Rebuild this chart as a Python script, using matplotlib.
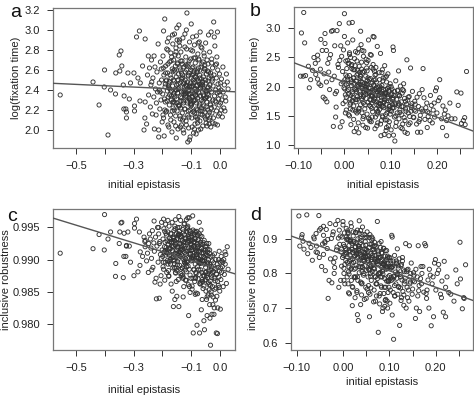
import numpy as np
import matplotlib
matplotlib.use('Agg')
import matplotlib.pyplot as plt

plt.rcParams['font.family'] = ['Liberation Sans', 'DejaVu Sans']

# panels a and c share the same x (initial epistasis)
epi_ac = [
    -0.555, -0.441, -0.420, -0.402, -0.401, -0.389, -0.380, -0.363, -0.362, -0.350,
    -0.348, -0.344, -0.341, -0.336, -0.334, -0.333, -0.327, -0.325, -0.325, -0.320,
    -0.315, -0.311, -0.299, -0.297, -0.297, -0.290, -0.285, -0.280, -0.278, -0.277,
    -0.269, -0.264, -0.261, -0.260, -0.260, -0.255, -0.252, -0.249, -0.248, -0.245,
    -0.242, -0.240, -0.238, -0.235, -0.233, -0.230, -0.228, -0.226, -0.224, -0.221,
    -0.219, -0.217, -0.215, -0.213, -0.211, -0.209, -0.207, -0.205, -0.203, -0.201,
    -0.199, -0.198, -0.196, -0.195, -0.194, -0.192, -0.191, -0.190, -0.189, -0.187,
    -0.186, -0.185, -0.183, -0.182, -0.181, -0.180, -0.178, -0.177, -0.176, -0.175,
    -0.174, -0.172, -0.171, -0.170, -0.169, -0.167, -0.166, -0.165, -0.164, -0.163,
    -0.162, -0.161, -0.160, -0.159, -0.158, -0.157, -0.156, -0.155, -0.154, -0.153,
    -0.152, -0.151, -0.150, -0.150, -0.149, -0.148, -0.147, -0.146, -0.145, -0.144,
    -0.143, -0.142, -0.141, -0.140, -0.139, -0.138, -0.137, -0.136, -0.135, -0.134,
    -0.133, -0.132, -0.131, -0.130, -0.129, -0.128, -0.127, -0.126, -0.125, -0.124,
    -0.123, -0.122, -0.121, -0.120, -0.119, -0.118, -0.117, -0.116, -0.115, -0.114,
    -0.113, -0.112, -0.111, -0.110, -0.109, -0.108, -0.107, -0.106, -0.105, -0.104,
    -0.103, -0.102, -0.101, -0.100, -0.100, -0.099, -0.098, -0.097, -0.096, -0.095,
    -0.094, -0.093, -0.092, -0.091, -0.090, -0.089, -0.088, -0.087, -0.086, -0.085,
    -0.084, -0.083, -0.082, -0.081, -0.080, -0.079, -0.078, -0.077, -0.076, -0.075,
    -0.074, -0.073, -0.072, -0.071, -0.070, -0.069, -0.068, -0.067, -0.066, -0.065,
    -0.064, -0.063, -0.062, -0.061, -0.060, -0.059, -0.058, -0.057, -0.056, -0.055,
    -0.054, -0.053, -0.052, -0.051, -0.050, -0.049, -0.048, -0.047, -0.046, -0.045,
    -0.044, -0.043, -0.042, -0.041, -0.040, -0.039, -0.038, -0.037, -0.036, -0.035,
    -0.034, -0.033, -0.032, -0.031, -0.030, -0.029, -0.028, -0.027, -0.026, -0.025,
    -0.024, -0.023, -0.022, -0.021, -0.020, -0.019, -0.018, -0.017, -0.016, -0.015,
    -0.014, -0.013, -0.012, -0.011, -0.010, -0.009, -0.008, -0.007, -0.006, -0.005,
    -0.004, -0.003, -0.002, -0.001, 0.000, 0.001, 0.002, 0.003, 0.004, 0.005,
    0.008, 0.010, 0.011, 0.013, 0.015, 0.018, 0.020, 0.022, 0.025, 0.028,
    -0.178, -0.165, -0.152, -0.140, -0.128, -0.117, -0.106, -0.095, -0.083, -0.072,
    -0.190, -0.170, -0.146, -0.124, -0.111, -0.098, -0.087, -0.068, -0.058, -0.047,
    -0.184, -0.158, -0.137, -0.119, -0.103, -0.091, -0.079, -0.063, -0.052, -0.040,
    -0.173, -0.161, -0.148, -0.133, -0.121, -0.108, -0.094, -0.082, -0.070, -0.057,
    -0.229, -0.213, -0.196, -0.181, -0.143, -0.112, -0.089, -0.035, -0.020, -0.009,
    -0.197, -0.188, -0.179, -0.168, -0.157, -0.149, -0.139, -0.129, -0.118, -0.107,
    -0.099, -0.092, -0.084, -0.076, -0.069, -0.061, -0.053, -0.046, -0.038, -0.031,
    -0.193, -0.181, -0.171, -0.162, -0.153, -0.144, -0.134, -0.125, -0.116, -0.108,
    -0.101, -0.093, -0.086, -0.078, -0.071, -0.064, -0.056, -0.049, -0.043, -0.036,
    -0.186, -0.175, -0.163, -0.154, -0.146, -0.136, -0.127, -0.119, -0.110, -0.102,
    -0.097, -0.088, -0.081, -0.073, -0.066, -0.059, -0.051, -0.044, -0.037, -0.029,
    -0.211, -0.204, -0.192, -0.176, -0.160, -0.142, -0.131, -0.113, -0.096, -0.079,
    -0.198, -0.183, -0.169, -0.155, -0.138, -0.122, -0.109, -0.090, -0.074, -0.060,
    -0.145, -0.132, -0.120, -0.105, -0.093, -0.085, -0.077, -0.065, -0.054, -0.042,
    -0.159, -0.147, -0.135, -0.121, -0.107, -0.099, -0.082, -0.071, -0.059, -0.048,
    -0.237, -0.222, -0.208, -0.166, -0.150, -0.126, -0.104, -0.086, -0.062, -0.025,
    -0.170, -0.156, -0.141, -0.123, -0.114, -0.101, -0.087, -0.075, -0.066, -0.039,
    -0.189, -0.177, -0.164, -0.151, -0.138, -0.126, -0.115, -0.103, -0.091, -0.080,
    -0.068, -0.055, -0.043, -0.033, -0.027, -0.017, -0.012, -0.003, 0.006, 0.017,
    -0.130, -0.117, -0.110, -0.097, -0.085, -0.078, -0.067, -0.050, -0.045, -0.030,
]

# panel a: log(fixation time)
fix_a = [
    2.35, 2.48, 2.25, 2.43, 2.60, 1.95, 2.40, 2.36, 2.57, 2.75,
    2.59, 2.79, 2.64, 2.45, 2.21, 2.34, 2.21, 2.18, 2.12, 2.57,
    2.31, 2.47, 2.57, 2.24, 2.19, 2.93, 2.52, 2.99, 2.29, 2.47,
    2.64, 2.00, 2.12, 2.91, 2.28, 2.06, 2.55, 2.74, 2.35, 2.62,
    2.23, 2.45, 2.70, 2.16, 2.52, 2.33, 2.01, 2.63, 2.41, 2.27,
    2.58, 2.38, 2.86, 1.93, 2.47, 2.21, 2.68, 2.30, 2.50, 2.08,
    2.36, 2.74, 2.12, 2.55, 1.94, 3.11, 2.43, 2.28, 2.64, 2.49,
    2.19, 2.81, 2.39, 2.57, 2.05, 2.33, 2.92, 2.46, 2.25, 2.68,
    2.41, 2.15, 2.77, 2.52, 2.30, 1.98, 2.61, 2.44, 2.86, 2.22,
    2.35, 2.70, 2.08, 2.49, 2.96, 2.27, 2.58, 2.40, 2.14, 2.82,
    2.53, 2.31, 3.02, 2.45, 2.19, 2.66, 2.37, 2.01, 2.74, 2.56,
    2.42, 2.88, 2.24, 2.62, 2.47, 2.11, 2.33, 2.78, 2.51, 2.05,
    2.38, 2.69, 2.17, 2.55, 2.92, 2.29, 2.46, 1.97, 2.63, 2.40,
    2.21, 2.83, 2.50, 2.34, 2.73, 2.09, 2.44, 2.60, 3.17, 2.27,
    2.48, 2.15, 2.66, 2.39, 2.02, 2.57, 2.31, 2.88, 2.44, 1.93,
    2.36, 2.71, 2.24, 2.52, 3.06, 2.43, 2.12, 2.62, 2.33, 2.79,
    2.18, 2.47, 1.97, 2.58, 2.29, 2.85, 2.41, 2.06, 2.67, 2.35,
    2.53, 2.21, 2.94, 2.44, 2.13, 2.60, 2.32, 2.76, 2.49, 2.00,
    2.38, 2.70, 2.26, 2.55, 2.09, 2.98, 2.42, 2.16, 2.63, 2.30,
    2.51, 2.82, 2.19, 2.45, 2.04, 2.68, 2.35, 2.59, 2.24, 2.74,
    2.40, 2.13, 2.61, 2.32, 2.87, 2.47, 2.07, 2.56, 2.28, 2.70,
    2.36, 2.20, 2.66, 2.43, 2.95, 2.10, 2.52, 2.31, 2.78, 2.45,
    2.26, 2.57, 2.03, 2.98, 2.38, 2.71, 2.17, 2.49, 2.62, 2.30,
    2.44, 2.12, 3.08, 2.55, 2.23, 2.34, 2.84, 2.06, 2.65, 2.40,
    2.28, 2.52, 2.19, 2.73, 2.37, 2.05, 2.60, 2.46, 2.14, 2.31,
    2.42, 2.25, 2.56, 2.16, 2.35, 2.47, 2.27, 2.40, 2.20, 2.51,
    2.13, 2.63, 2.38, 2.22, 2.45, 2.33, 2.29, 2.56, 2.48, 2.41,
    2.03, 2.95, 1.92, 2.84, 2.00, 3.00, 1.90, 2.93, 1.96, 2.88,
    2.46, 2.39, 2.50, 2.43, 2.55, 2.37, 2.48, 2.42, 2.53, 2.39,
    2.29, 2.60, 2.22, 2.65, 2.26, 2.72, 2.20, 2.66, 2.18, 2.58,
    2.55, 2.28, 2.67, 2.32, 2.58, 2.36, 2.63, 2.27, 2.52, 2.34,
    2.74, 2.00, 2.99, 2.80, 3.05, 1.88, 2.01, 2.12, 2.93, 2.98,
    2.62, 2.18, 2.44, 2.73, 2.33, 2.90, 2.14, 2.52, 2.38, 2.69,
    2.25, 2.56, 2.41, 2.87, 2.19, 2.48, 2.65, 2.33, 2.06, 2.54,
    2.31, 2.66, 2.10, 2.50, 2.78, 2.24, 2.57, 2.36, 2.81, 2.13,
    2.60, 2.30, 2.72, 2.11, 2.46, 2.22, 2.77, 2.39, 2.59, 2.18,
    2.50, 2.35, 2.59, 2.04, 2.41, 2.69, 2.27, 2.45, 2.54, 2.30,
    2.44, 2.17, 2.58, 2.37, 2.83, 2.29, 2.50, 2.14, 2.40, 2.67,
    2.40, 2.61, 2.20, 2.48, 2.37, 2.25, 2.66, 2.29, 2.55, 2.45,
    2.15, 2.88, 2.34, 2.64, 2.03, 2.96, 2.40, 2.19, 2.71, 2.48,
    2.46, 2.52, 2.36, 2.43, 2.50, 2.34, 2.58, 2.46, 2.31, 2.49,
    2.20, 2.37, 2.29, 2.21, 2.32, 2.26, 2.39, 2.24, 2.42, 2.23,
    2.48, 2.15, 2.38, 2.19, 2.27, 2.12, 2.20, 2.30, 2.15, 2.07,
    2.69, 2.75, 2.90, 2.47, 2.64, 2.80, 2.53, 2.62, 2.44, 2.35,
    2.57, 2.42, 2.28, 2.40, 2.60, 2.38, 2.33, 2.47, 2.36, 2.51,
    2.34, 2.61, 2.42, 2.25, 2.51, 2.29, 2.66, 2.38, 2.30, 2.19,
    2.10, 2.05, 2.19, 2.03, 2.13, 2.07, 2.01, 2.11, 2.04, 2.22,
]

# panel c: inclusive robustness
rob_c = [
    0.9910, 0.9917, 0.9939, 0.9915, 0.9970, 0.9932, 0.9943, 0.9874, 0.9894, 0.9925,
    0.9943, 0.9957, 0.9958, 0.9872, 0.9905, 0.9941, 0.9905, 0.9922, 0.9921, 0.9943,
    0.9921, 0.9896, 0.9875, 0.9956, 0.9949, 0.9963, 0.9881, 0.9943, 0.9891, 0.9912,
    0.9905, 0.9935, 0.9928, 0.9920, 0.9930, 0.9898, 0.9910, 0.9880, 0.9925, 0.9940,
    0.9932, 0.9918, 0.9902, 0.9945, 0.9888, 0.9926, 0.9913, 0.9865, 0.9935, 0.9839,
    0.9921, 0.9950, 0.9896, 0.9940, 0.9840, 0.9928, 0.9908, 0.9875, 0.9958, 0.9915,
    0.9905, 0.9932, 0.9885, 0.9948, 0.9912, 0.9868, 0.9927, 0.9896, 0.9955, 0.9919,
    0.9938, 0.9880, 0.9910, 0.9899, 0.9943, 0.9924, 0.9874, 0.9952, 0.9907, 0.9933,
    0.9917, 0.9893, 0.9940, 0.9862, 0.9928, 0.9903, 0.9958, 0.9914, 0.9887, 0.9935,
    0.9827, 0.9921, 0.9945, 0.9898, 0.9930, 0.9838, 0.9910, 0.9962, 0.9879, 0.9926,
    0.9904, 0.9941, 0.9915, 0.9883, 0.9933, 0.9897, 0.9950, 0.9920, 0.9869, 0.9938,
    0.9827, 0.9912, 0.9944, 0.9891, 0.9925, 0.9905, 0.9961, 0.9878, 0.9918, 0.9936,
    0.9908, 0.9930, 0.9887, 0.9947, 0.9916, 0.9873, 0.9926, 0.9900, 0.9955, 0.9911,
    0.9939, 0.9895, 0.9921, 0.9868, 0.9934, 0.9909, 0.9881, 0.9943, 0.9913, 0.9897,
    0.9927, 0.9952, 0.9890, 0.9918, 0.9813, 0.9936, 0.9965, 0.9902, 0.9929, 0.9876,
    0.9910, 0.9944, 0.9871, 0.9923, 0.9898, 0.9937, 0.9915, 0.9859, 0.9930, 0.9903,
    0.9946, 0.9786, 0.9921, 0.9884, 0.9939, 0.9911, 0.9866, 0.9926, 0.9893, 0.9915,
    0.9933, 0.9878, 0.9908, 0.9944, 0.9798, 0.9918, 0.9889, 0.9931, 0.9870, 0.9902,
    0.9921, 0.9897, 0.9940, 0.9786, 0.9913, 0.9862, 0.9927, 0.9884, 0.9905, 0.9822,
    0.9910, 0.9936, 0.9869, 0.9899, 0.9924, 0.9855, 0.9915, 0.9876, 0.9805, 0.9930,
    0.9791, 0.9903, 0.9867, 0.9920, 0.9888, 0.9851, 0.9908, 0.9838, 0.9925, 0.9813,
    0.9896, 0.9872, 0.9916, 0.9845, 0.9900, 0.9882, 0.9861, 0.9910, 0.9830, 0.9893,
    0.9867, 0.9767, 0.9904, 0.9850, 0.9889, 0.9876, 0.9815, 0.9898, 0.9858, 0.9906,
    0.9842, 0.9882, 0.9895, 0.9815, 0.9871, 0.9909, 0.9854, 0.9886, 0.9837, 0.9900,
    0.9856, 0.9786, 0.9877, 0.9843, 0.9893, 0.9866, 0.9825, 0.9888, 0.9860, 0.9900,
    0.9873, 0.9913, 0.9882, 0.9851, 0.9896, 0.9823, 0.9887, 0.9869, 0.9905, 0.9880,
    0.9889, 0.9896, 0.9858, 0.9900, 0.9877, 0.9893, 0.9908, 0.9863, 0.9920, 0.9885,
    0.9875, 0.9920, 0.9866, 0.9950, 0.9842, 0.9962, 0.9858, 0.9968, 0.9848, 0.9958,
    0.9914, 0.9906, 0.9925, 0.9897, 0.9930, 0.9902, 0.9918, 0.9894, 0.9911, 0.9875,
    0.9929, 0.9887, 0.9936, 0.9893, 0.9940, 0.9885, 0.9924, 0.9880, 0.9915, 0.9864,
    0.9900, 0.9933, 0.9892, 0.9920, 0.9884, 0.9927, 0.9871, 0.9913, 0.9863, 0.9905,
    0.9960, 0.9950, 0.9963, 0.9961, 0.9967, 0.9965, 0.9940, 0.9809, 0.9825, 0.9785,
    0.9896, 0.9941, 0.9883, 0.9926, 0.9952, 0.9909, 0.9936, 0.9871, 0.9918, 0.9945,
    0.9902, 0.9927, 0.9880, 0.9912, 0.9937, 0.9866, 0.9898, 0.9921, 0.9853, 0.9884,
    0.9920, 0.9893, 0.9931, 0.9904, 0.9887, 0.9940, 0.9915, 0.9928, 0.9889, 0.9909,
    0.9930, 0.9901, 0.9872, 0.9938, 0.9895, 0.9917, 0.9859, 0.9906, 0.9878, 0.9915,
    0.9911, 0.9928, 0.9899, 0.9923, 0.9908, 0.9885, 0.9943, 0.9901, 0.9933, 0.9924,
    0.9915, 0.9932, 0.9905, 0.9877, 0.9924, 0.9898, 0.9869, 0.9912, 0.9890, 0.9872,
    0.9925, 0.9902, 0.9944, 0.9918, 0.9935, 0.9907, 0.9929, 0.9948, 0.9899, 0.9920,
    0.9889, 0.9915, 0.9921, 0.9880, 0.9911, 0.9895, 0.9939, 0.9928, 0.9885, 0.9897,
    0.9901, 0.9887, 0.9932, 0.9914, 0.9906, 0.9942, 0.9897, 0.9918, 0.9893, 0.9906,
    0.9894, 0.9918, 0.9875, 0.9902, 0.9885, 0.9919, 0.9908, 0.9895, 0.9927, 0.9881,
    0.9884, 0.9871, 0.9862, 0.9851, 0.9843, 0.9858, 0.9849, 0.9846, 0.9838, 0.9830,
    0.9941, 0.9948, 0.9939, 0.9956, 0.9950, 0.9935, 0.9944, 0.9931, 0.9946, 0.9925,
    0.9907, 0.9897, 0.9912, 0.9931, 0.9916, 0.9922, 0.9896, 0.9908, 0.9920, 0.9903,
    0.9900, 0.9874, 0.9893, 0.9860, 0.9880, 0.9867, 0.9878, 0.9857, 0.9898, 0.9912,
    0.9876, 0.9868, 0.9861, 0.9854, 0.9871, 0.9847, 0.9865, 0.9880, 0.9842, 0.9845,
]

# panels b and d share the same x
epi_bd = [
    -0.095, -0.093, -0.089, -0.088, -0.086, -0.084, -0.078, -0.076, -0.073, -0.066,
    -0.062, -0.058, -0.058, -0.057, -0.052, -0.051, -0.051, -0.046, -0.042, -0.042,
    -0.042, -0.039, -0.039, -0.038, -0.036, -0.034, -0.032, -0.030, -0.028, -0.025,
    -0.024, -0.022, -0.020, -0.019, -0.018, -0.016, -0.014, -0.011, -0.009, -0.007,
    -0.005, -0.004, -0.003, -0.002, -0.001, 0.000, 0.001, 0.002, 0.003, 0.004,
    0.005, 0.006, 0.007, 0.008, 0.009, 0.010, 0.011, 0.012, 0.013, 0.014,
    0.015, 0.016, 0.017, 0.018, 0.019, 0.020, 0.021, 0.022, 0.023, 0.024,
    0.025, 0.026, 0.027, 0.028, 0.029, 0.030, 0.031, 0.031, 0.032, 0.033,
    0.034, 0.035, 0.035, 0.036, 0.037, 0.038, 0.039, 0.040, 0.041, 0.042,
    0.043, 0.044, 0.045, 0.046, 0.047, 0.048, 0.049, 0.050, 0.051, 0.052,
    0.053, 0.054, 0.055, 0.056, 0.057, 0.058, 0.059, 0.060, 0.061, 0.062,
    0.063, 0.064, 0.065, 0.066, 0.067, 0.068, 0.069, 0.070, 0.071, 0.072,
    0.073, 0.074, 0.075, 0.076, 0.077, 0.078, 0.079, 0.080, 0.081, 0.082,
    0.083, 0.084, 0.085, 0.086, 0.087, 0.088, 0.089, 0.090, 0.091, 0.092,
    0.093, 0.094, 0.095, 0.096, 0.097, 0.098, 0.099, 0.100, 0.101, 0.102,
    0.103, 0.104, 0.105, 0.106, 0.107, 0.108, 0.109, 0.110, 0.111, 0.112,
    0.113, 0.114, 0.115, 0.116, 0.117, 0.118, 0.119, 0.120, 0.121, 0.122,
    0.123, 0.124, 0.125, 0.126, 0.127, 0.128, 0.129, 0.130, 0.131, 0.132,
    0.134, 0.135, 0.136, 0.138, 0.140, 0.142, 0.143, 0.145, 0.147, 0.149,
    0.150, 0.152, 0.154, 0.156, 0.158, 0.160, 0.162, 0.164, 0.165, 0.167,
    0.170, 0.172, 0.174, 0.176, 0.178, 0.180, 0.183, 0.185, 0.188, 0.190,
    0.192, 0.195, 0.197, 0.200, 0.203, 0.206, 0.206, 0.210, 0.213, 0.216,
    0.218, 0.221, 0.221, 0.224, 0.232, 0.239, 0.243, 0.252, 0.257, 0.264,
    0.253, 0.260, 0.261, 0.246, 0.228, 0.212, 0.199, 0.186, 0.179, 0.168,
    0.002, 0.012, 0.022, 0.032, 0.042, 0.052, 0.062, 0.072, 0.082, 0.092,
    0.006, 0.016, 0.026, 0.036, 0.046, 0.056, 0.066, 0.076, 0.086, 0.096,
    0.009, 0.019, 0.029, 0.039, 0.049, 0.059, 0.069, 0.079, 0.089, 0.099,
    0.004, 0.014, 0.024, 0.034, 0.044, 0.054, 0.064, 0.074, 0.084, 0.094,
    0.008, 0.018, 0.028, 0.038, 0.048, 0.058, 0.068, 0.078, 0.088, 0.108,
    0.011, 0.021, 0.031, 0.041, 0.051, 0.061, 0.071, 0.081, 0.091, 0.101,
    0.026, 0.036, 0.046, 0.056, 0.066, 0.076, 0.086, 0.096, 0.106, 0.116,
    0.014, 0.024, 0.034, 0.044, 0.054, 0.064, 0.074, 0.084, 0.094, 0.104,
    -0.069, -0.063, -0.055, -0.048, -0.044, -0.033, -0.027, -0.021, -0.013, -0.006,
    0.003, 0.009, 0.015, 0.021, 0.027, 0.033, 0.039, 0.045, 0.051, 0.057,
    0.063, 0.069, 0.075, 0.081, 0.087, 0.093, 0.099, 0.105, 0.111, 0.117,
    0.001, 0.007, 0.013, 0.019, 0.025, 0.031, 0.037, 0.043, 0.049, 0.055,
    0.061, 0.067, 0.073, 0.079, 0.085, 0.091, 0.097, 0.103, 0.109, 0.115,
    -0.010, -0.003, 0.004, 0.011, 0.017, 0.023, 0.029, 0.035, 0.041, 0.047,
    0.053, 0.059, 0.065, 0.071, 0.077, 0.083, 0.089, 0.095, 0.101, 0.107,
    0.119, 0.124, 0.128, 0.133, 0.137, 0.141, 0.146, 0.151, 0.157, 0.163,
    0.013, 0.020, 0.027, 0.034, 0.041, 0.048, 0.055, 0.062, 0.069, 0.076,
    0.083, 0.090, 0.097, 0.104, 0.111, 0.118, 0.125, 0.132, 0.139, 0.144,
    -0.017, -0.008, 0.000, 0.010, 0.018, 0.028, 0.038, 0.047, 0.058, 0.068,
    0.002, 0.011, 0.020, 0.030, 0.040, 0.050, 0.060, 0.070, 0.080, 0.090,
    0.015, 0.025, 0.035, 0.045, 0.055, 0.065, 0.075, 0.085, 0.095, 0.105,
    0.007, 0.017, 0.027, 0.037, 0.047, 0.057, 0.067, 0.077, 0.087, 0.097,
    0.120, 0.126, 0.131, 0.138, 0.144, 0.153, 0.161, 0.169, 0.181, 0.194,
]

# panel b: log(fixation time)
fix_b = [
    2.18, 2.92, 2.18, 3.27, 2.75, 2.19, 2.35, 1.98, 2.12, 2.50,
    2.21, 2.54, 2.13, 2.46, 2.30, 2.02, 2.81, 1.82, 2.91, 2.74,
    1.79, 2.62, 2.08, 1.74, 2.40, 2.25, 1.95, 2.55, 2.95, 2.96,
    1.32, 2.18, 1.88, 1.48, 1.65, 2.96, 2.38, 3.08, 1.31, 2.05,
    1.40, 2.26, 1.71, 2.63, 1.98, 3.25, 2.12, 1.86, 2.44, 1.60,
    2.31, 1.93, 2.75, 2.05, 1.52, 3.09, 2.19, 1.79, 2.50, 1.35,
    2.02, 2.38, 3.10, 1.88, 2.15, 1.67, 1.23, 2.29, 1.96, 2.60,
    1.74, 2.09, 2.44, 1.83, 2.22, 1.58, 1.21, 2.01, 2.35, 1.91,
    2.14, 2.95, 1.69, 1.99, 2.30, 1.77, 2.07, 1.45, 2.52, 1.86,
    2.26, 1.62, 1.95, 2.18, 1.80, 2.41, 1.53, 2.04, 1.73, 2.80,
    1.88, 2.12, 1.41, 1.97, 1.66, 2.33, 1.84, 2.06, 1.57, 2.86,
    1.76, 2.85, 1.93, 2.20, 1.48, 1.85, 2.08, 1.69, 2.69, 1.38,
    1.99, 1.72, 2.24, 1.61, 1.90, 2.57, 1.16, 1.81, 2.02, 1.50,
    1.87, 2.15, 1.64, 1.78, 2.36, 1.43, 1.95, 1.70, 2.08, 1.55,
    1.82, 2.22, 1.33, 1.16, 1.92, 1.67, 2.05, 1.75, 1.26, 1.58,
    1.96, 1.64, 2.68, 2.62, 1.85, 1.48, 1.07, 1.72, 2.10, 1.39,
    1.78, 1.55, 1.93, 1.68, 2.27, 1.45, 1.84, 1.60, 2.01, 1.30,
    1.74, 1.52, 1.89, 1.36, 1.66, 2.05, 1.47, 1.80, 1.22, 1.62,
    1.70, 2.46, 1.20, 1.55, 1.83, 1.38, 2.32, 1.64, 1.92, 1.48,
    1.47, 1.75, 1.58, 1.36, 1.22, 1.66, 1.88, 1.51, 1.22, 1.62,
    2.31, 1.81, 1.44, 1.64, 1.72, 1.57, 1.55, 1.42, 1.68, 1.38,
    1.60, 1.48, 1.93, 1.55, 1.76, 2.12, 1.81, 1.45, 1.67, 1.53,
    1.60, 1.16, 1.42, 1.50, 1.45, 1.45, 1.91, 1.89, 1.42, 2.26,
    1.37, 1.47, 1.35, 1.68, 1.72, 1.30, 1.98, 1.85, 1.30, 1.95,
    1.75, 1.69, 2.48, 1.63, 2.61, 1.46, 2.38, 1.58, 2.29, 1.43,
    2.17, 2.31, 1.92, 2.09, 1.87, 2.14, 1.79, 2.01, 1.74, 1.94,
    1.95, 1.81, 2.03, 2.25, 2.10, 1.72, 1.98, 1.76, 1.89, 1.53,
    2.04, 2.12, 1.78, 1.84, 1.96, 1.90, 2.11, 1.85, 1.67, 1.80,
    2.40, 1.60, 2.28, 1.55, 2.32, 1.40, 2.21, 1.36, 2.16, 1.92,
    2.55, 1.97, 2.65, 1.72, 2.45, 1.94, 1.53, 2.24, 1.30, 1.86,
    1.29, 2.72, 1.30, 2.55, 1.28, 2.12, 1.18, 2.00, 1.17, 1.86,
    1.85, 1.58, 2.18, 2.06, 1.68, 2.02, 1.67, 1.95, 1.61, 1.69,
    2.28, 2.40, 2.05, 2.62, 2.22, 2.48, 2.12, 2.70, 2.33, 2.52,
    2.20, 1.88, 2.36, 2.06, 1.78, 2.25, 1.97, 1.69, 2.15, 1.86,
    2.03, 1.74, 1.94, 1.66, 1.88, 1.97, 1.59, 1.81, 1.50, 1.72,
    1.96, 2.45, 1.72, 2.29, 2.10, 1.62, 2.42, 1.91, 2.27, 1.78,
    1.84, 2.12, 1.56, 1.98, 1.73, 2.18, 1.62, 1.88, 1.69, 1.94,
    2.45, 2.08, 1.82, 2.58, 1.91, 2.36, 2.00, 2.18, 1.83, 2.05,
    1.98, 1.63, 2.26, 1.91, 1.70, 2.10, 1.52, 1.83, 2.00, 1.64,
    1.85, 1.66, 1.93, 1.58, 1.77, 1.49, 1.71, 1.60, 1.82, 1.44,
    1.62, 2.15, 1.55, 2.04, 1.49, 1.94, 1.44, 2.30, 1.62, 1.95,
    1.48, 1.90, 1.40, 1.78, 1.32, 1.70, 1.28, 1.75, 1.35, 1.67,
    1.92, 2.70, 2.86, 2.40, 2.80, 2.58, 2.62, 2.47, 2.54, 2.33,
    1.55, 1.50, 1.44, 1.38, 1.34, 1.29, 1.48, 1.33, 1.42, 1.25,
    2.08, 1.95, 1.87, 1.99, 1.92, 1.81, 1.87, 1.83, 1.76, 1.79,
    2.12, 1.76, 2.20, 1.80, 2.03, 1.77, 1.95, 1.71, 1.86, 1.66,
    1.56, 1.95, 1.42, 1.82, 1.58, 1.70, 1.40, 1.58, 1.49, 1.72,
]

# panel d: inclusive robustness
rob_d = [
    0.966, 0.879, 0.905, 0.912, 0.893, 0.870, 0.969, 0.857, 0.887, 0.838,
    0.900, 0.915, 0.862, 0.879, 0.967, 0.846, 0.925, 0.820, 0.936, 0.910,
    0.855, 0.892, 0.888, 0.808, 0.927, 0.872, 0.728, 0.780, 0.944, 0.901,
    0.773, 0.912, 0.832, 0.800, 0.817, 0.941, 0.868, 0.953, 0.760, 0.884,
    0.780, 0.862, 0.821, 0.905, 0.846, 0.950, 0.884, 0.800, 0.917, 0.770,
    0.872, 0.838, 0.930, 0.857, 0.790, 0.923, 0.896, 0.744, 0.881, 0.741,
    0.853, 0.897, 0.946, 0.815, 0.869, 0.707, 0.760, 0.908, 0.832, 0.891,
    0.788, 0.877, 0.919, 0.824, 0.862, 0.750, 0.681, 0.845, 0.900, 0.664,
    0.866, 0.952, 0.802, 0.840, 0.888, 0.710, 0.854, 0.770, 0.913, 0.817,
    0.880, 0.795, 0.835, 0.871, 0.822, 0.903, 0.760, 0.848, 0.809, 0.920,
    0.836, 0.864, 0.745, 0.851, 0.675, 0.884, 0.820, 0.858, 0.780, 0.896,
    0.806, 0.900, 0.829, 0.870, 0.752, 0.813, 0.852, 0.790, 0.877, 0.735,
    0.842, 0.950, 0.865, 0.630, 0.825, 0.887, 0.712, 0.803, 0.846, 0.764,
    0.818, 0.858, 0.690, 0.798, 0.873, 0.742, 0.834, 0.785, 0.850, 0.760,
    0.812, 0.866, 0.720, 0.700, 0.828, 0.776, 0.845, 0.794, 0.714, 0.752,
    0.836, 0.780, 0.910, 0.905, 0.820, 0.745, 0.610, 0.790, 0.852, 0.735,
    0.804, 0.770, 0.828, 0.786, 0.871, 0.740, 0.815, 0.762, 0.842, 0.650,
    0.797, 0.758, 0.822, 0.730, 0.781, 0.846, 0.748, 0.810, 0.708, 0.770,
    0.786, 0.886, 0.700, 0.760, 0.812, 0.720, 0.880, 0.775, 0.830, 0.740,
    0.755, 0.802, 0.776, 0.670, 0.700, 0.790, 0.880, 0.765, 0.690, 0.785,
    0.800, 0.820, 0.746, 0.886, 0.880, 0.728, 0.781, 0.700, 0.795, 0.649,
    0.770, 0.675, 0.830, 0.752, 0.800, 0.810, 0.826, 0.740, 0.778, 0.688,
    0.835, 0.675, 0.760, 0.790, 0.740, 0.720, 0.810, 0.890, 0.698, 0.825,
    0.784, 0.730, 0.728, 0.770, 0.745, 0.730, 0.840, 0.812, 0.742, 0.820,
    0.815, 0.805, 0.920, 0.780, 0.934, 0.755, 0.905, 0.770, 0.892, 0.725,
    0.860, 0.892, 0.851, 0.872, 0.836, 0.875, 0.815, 0.856, 0.812, 0.845,
    0.848, 0.830, 0.858, 0.895, 0.869, 0.800, 0.841, 0.801, 0.826, 0.760,
    0.855, 0.866, 0.812, 0.820, 0.846, 0.838, 0.868, 0.828, 0.790, 0.818,
    0.898, 0.780, 0.888, 0.775, 0.892, 0.740, 0.880, 0.735, 0.872, 0.836,
    0.915, 0.842, 0.925, 0.805, 0.905, 0.840, 0.770, 0.875, 0.722, 0.820,
    0.730, 0.915, 0.725, 0.904, 0.718, 0.862, 0.700, 0.850, 0.680, 0.830,
    0.834, 0.790, 0.873, 0.860, 0.790, 0.853, 0.785, 0.840, 0.778, 0.788,
    0.875, 0.905, 0.860, 0.930, 0.885, 0.898, 0.842, 0.920, 0.876, 0.908,
    0.878, 0.832, 0.895, 0.861, 0.815, 0.880, 0.848, 0.800, 0.868, 0.826,
    0.846, 0.804, 0.838, 0.790, 0.826, 0.840, 0.780, 0.818, 0.765, 0.798,
    0.852, 0.905, 0.818, 0.887, 0.866, 0.790, 0.902, 0.838, 0.882, 0.812,
    0.822, 0.862, 0.770, 0.845, 0.806, 0.866, 0.778, 0.830, 0.792, 0.836,
    0.902, 0.870, 0.826, 0.918, 0.838, 0.892, 0.855, 0.878, 0.820, 0.860,
    0.850, 0.792, 0.878, 0.835, 0.798, 0.860, 0.760, 0.820, 0.846, 0.784,
    0.822, 0.790, 0.836, 0.778, 0.805, 0.752, 0.800, 0.780, 0.812, 0.750,
    0.798, 0.870, 0.790, 0.858, 0.772, 0.848, 0.765, 0.885, 0.790, 0.846,
    0.760, 0.830, 0.745, 0.815, 0.735, 0.800, 0.722, 0.805, 0.730, 0.790,
    0.845, 0.925, 0.940, 0.900, 0.935, 0.918, 0.924, 0.912, 0.912, 0.890,
    0.780, 0.770, 0.762, 0.745, 0.738, 0.728, 0.758, 0.720, 0.742, 0.705,
    0.862, 0.850, 0.836, 0.852, 0.842, 0.824, 0.834, 0.828, 0.814, 0.818,
    0.868, 0.812, 0.876, 0.818, 0.856, 0.810, 0.842, 0.800, 0.828, 0.790,
    0.760, 0.826, 0.738, 0.810, 0.770, 0.795, 0.735, 0.770, 0.752, 0.790,
]

# regression lines: (intercept, slope)
fit_a = (2.389, -0.134)
fit_b = (2.080, -3.02)
fit_c = (0.98850, -0.01372)
fit_d = (0.855, -0.475)

xt_ac = [-0.5, -0.4, -0.3, -0.2, -0.1, 0.0]
xl_ac = ['\u22120.5', '', '\u22120.3', '', '\u22120.1', '0.0']
xt_bd = [-0.10, -0.05, 0.0, 0.05, 0.10, 0.15, 0.20, 0.25]
xl_bd = ['\u22120.10', '', '0.00', '', '0.10', '', '0.20', '']
yt_a = [2.0, 2.2, 2.4, 2.6, 2.8, 3.0, 3.2]
yl_a = ['2.0', '2.2', '2.4', '2.6', '2.8', '3.0', '3.2']
yt_b = [1.0, 1.5, 2.0, 2.5, 3.0]
yl_b = ['1.0', '1.5', '2.0', '2.5', '3.0']
yt_c = [0.980, 0.985, 0.990, 0.995]
yl_c = ['0.980', '0.985', '0.990', '0.995']
yt_d = [0.6, 0.7, 0.8, 0.9]
yl_d = ['0.6', '0.7', '0.8', '0.9']


def panel(fig, rect, x, y, fit, xlim, ylim, xt, xl, yt, yl, ylab, ylab_x, xlab_y):
    ax = fig.add_axes(rect)
    ax.scatter(x, y, s=9, facecolors='none', edgecolors='#333333', linewidths=0.65, zorder=2)
    ax.axline((0, fit[0]), slope=fit[1], color='#555555', lw=1.0, zorder=3)
    ax.set_xlim(xlim)
    ax.set_ylim(ylim)
    ax.set_xticks(xt)
    ax.set_xticklabels(xl)
    ax.set_yticks(yt)
    ax.set_yticklabels(yl)
    ax.tick_params(direction='out', length=4.5, width=0.7, colors='#333333',
                   labelcolor='#222222', labelsize=8, pad=5)
    for sp in ax.spines.values():
        sp.set_color('#777777')
        sp.set_linewidth(0.9)
    ax.set_xlabel('initial epistasis', fontsize=8, color='#222222', va='center')
    ax.xaxis.set_label_coords(0.5, xlab_y)
    ax.set_ylabel(ylab, fontsize=8, color='#222222', va='center')
    ax.yaxis.set_label_coords(ylab_x, 0.5)
    return ax


fig = plt.figure(figsize=(4.74, 3.99), dpi=100)

panel(fig, [0.1118, 0.6291, 0.3840, 0.3509], epi_ac, fix_a, fit_a,
      (-0.58, 0.052), (1.82, 3.22), xt_ac, xl_ac, yt_a, yl_a,
      'log(fixation time)', -0.203, -0.264)
panel(fig, [0.6203, 0.6291, 0.3776, 0.3534], epi_bd, fix_b, fit_b,
      (-0.109, 0.278), (0.95, 3.365), xt_bd, xl_bd, yt_b, yl_b,
      'log(fixation time)', -0.218, -0.264)
panel(fig, [0.1118, 0.1228, 0.3840, 0.3534], epi_ac, rob_c, fit_c,
      (-0.58, 0.052), (0.97595, 0.99787), xt_ac, xl_ac, yt_c, yl_c,
      'inclusive robustness', -0.258, -0.284)
panel(fig, [0.6139, 0.1228, 0.3840, 0.3534], epi_bd, rob_d, fit_d,
      (-0.112, 0.280), (0.579, 0.986), xt_bd, xl_bd, yt_d, yl_d,
      'inclusive robustness', -0.209, -0.227)

for lab, fx, fy in [('a', 0.021, 0.957), ('b', 0.527, 0.960),
                    ('c', 0.015, 0.446), ('d', 0.527, 0.449)]:
    fig.text(fx, fy, lab, fontsize=14, color='#111111', va='baseline')

fig.savefig('out.png', dpi=100)
